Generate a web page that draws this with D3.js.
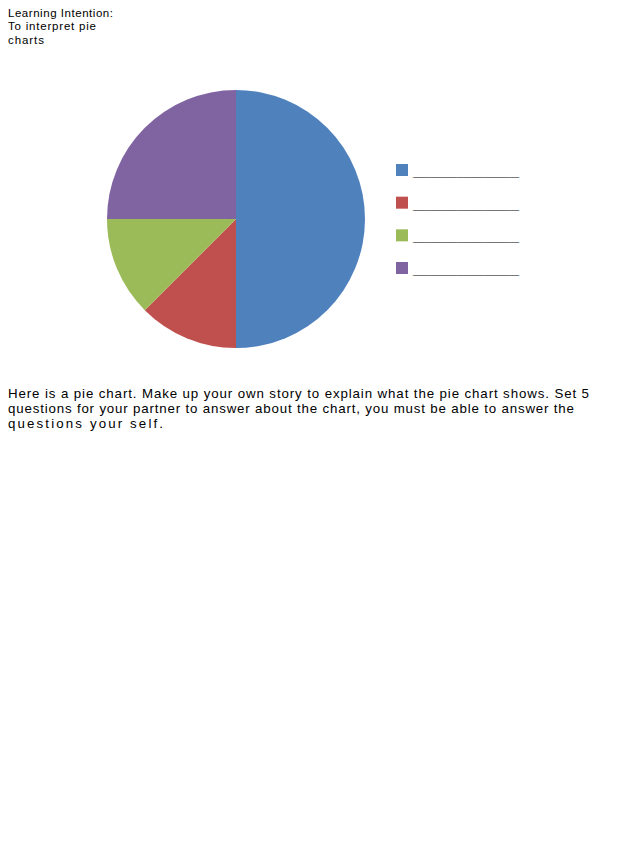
<!DOCTYPE html>
<html>
<head>
<meta charset="utf-8">
<script src="https://cdn.jsdelivr.net/npm/d3@7"></script>
<style>
  body { margin: 0; background: #fff; }
  svg text { font-family: "Comic Sans MS", "Liberation Sans", "DejaVu Sans", sans-serif; fill: #000; }
</style>
</head>
<body>
<div id="chart"></div>
<script>
// pie slices (blank legend entries to be filled in by pupils)
var categories = ["A", "B", "C", "D"];
var values = [50, 12.5, 12.5, 25];
var legendLabels = ["____________", "____________", "____________", "____________"];
var colours = ["#4f81bd", "#c0504d", "#9bbb59", "#8064a2"];

var titleLines = ["Learning Intention:", "To interpret pie", "charts"];
var bodyLines = [
  "Here is a pie chart.  Make up your own story to explain what the pie chart shows.  Set 5",
  "questions for your partner to answer about the chart, you must be able to answer the",
  "questions your self."
];

var width = 638, height = 851;

var svg = d3.select("#chart")
  .append("svg")
    .attr("width", width)
    .attr("height", height);

// heading top left
var titleWidths = [105, 88, 36];
svg.append("g")
  .selectAll("text")
  .data(titleLines)
  .enter()
  .append("text")
    .attr("x", 8)
    .attr("y", (d, i) => 16.5 + i * 13.8)
    .attr("font-size", 11.5)
    .attr("textLength", (d, i) => titleWidths[i])
    .text(d => d);

// the pie
var cx = 236, cy = 219, r = 129;

var pie = d3.pie().sort(null).value(d => d);
var arc = d3.arc().innerRadius(0).outerRadius(r);
var colour = d3.scaleOrdinal().domain(categories).range(colours);

var g = svg.append("g")
  .attr("transform", "translate(" + cx + "," + cy + ")");

g.selectAll("path")
  .data(pie(values))
  .enter()
  .append("path")
    .attr("d", arc)
    .attr("fill", (d, i) => colour(categories[i]));

// legend
var legendY = d3.scalePoint()
  .domain(categories)
  .range([164, 262]);

var legend = svg.append("g")
  .selectAll("g")
  .data(categories)
  .enter()
  .append("g")
    .attr("transform", d => "translate(396," + legendY(d) + ")");

legend.append("rect")
  .attr("width", 12)
  .attr("height", 12)
  .attr("fill", d => colour(d));

legend.append("text")
  .attr("x", 17)
  .attr("y", 12)
  .attr("font-size", 14)
  .attr("font-weight", "bold")
  .attr("textLength", 106)
  .attr("lengthAdjust", "spacingAndGlyphs")
  .text((d, i) => legendLabels[i]);

// instructions below the chart
var bodyWidths = [581, 566, 155];
svg.append("g")
  .selectAll("text")
  .data(bodyLines)
  .enter()
  .append("text")
    .attr("x", 8)
    .attr("y", (d, i) => 397.5 + i * 15.3)
    .attr("font-size", 13.3)
    .attr("textLength", (d, i) => bodyWidths[i])
    .text(d => d);
</script>
</body>
</html>
